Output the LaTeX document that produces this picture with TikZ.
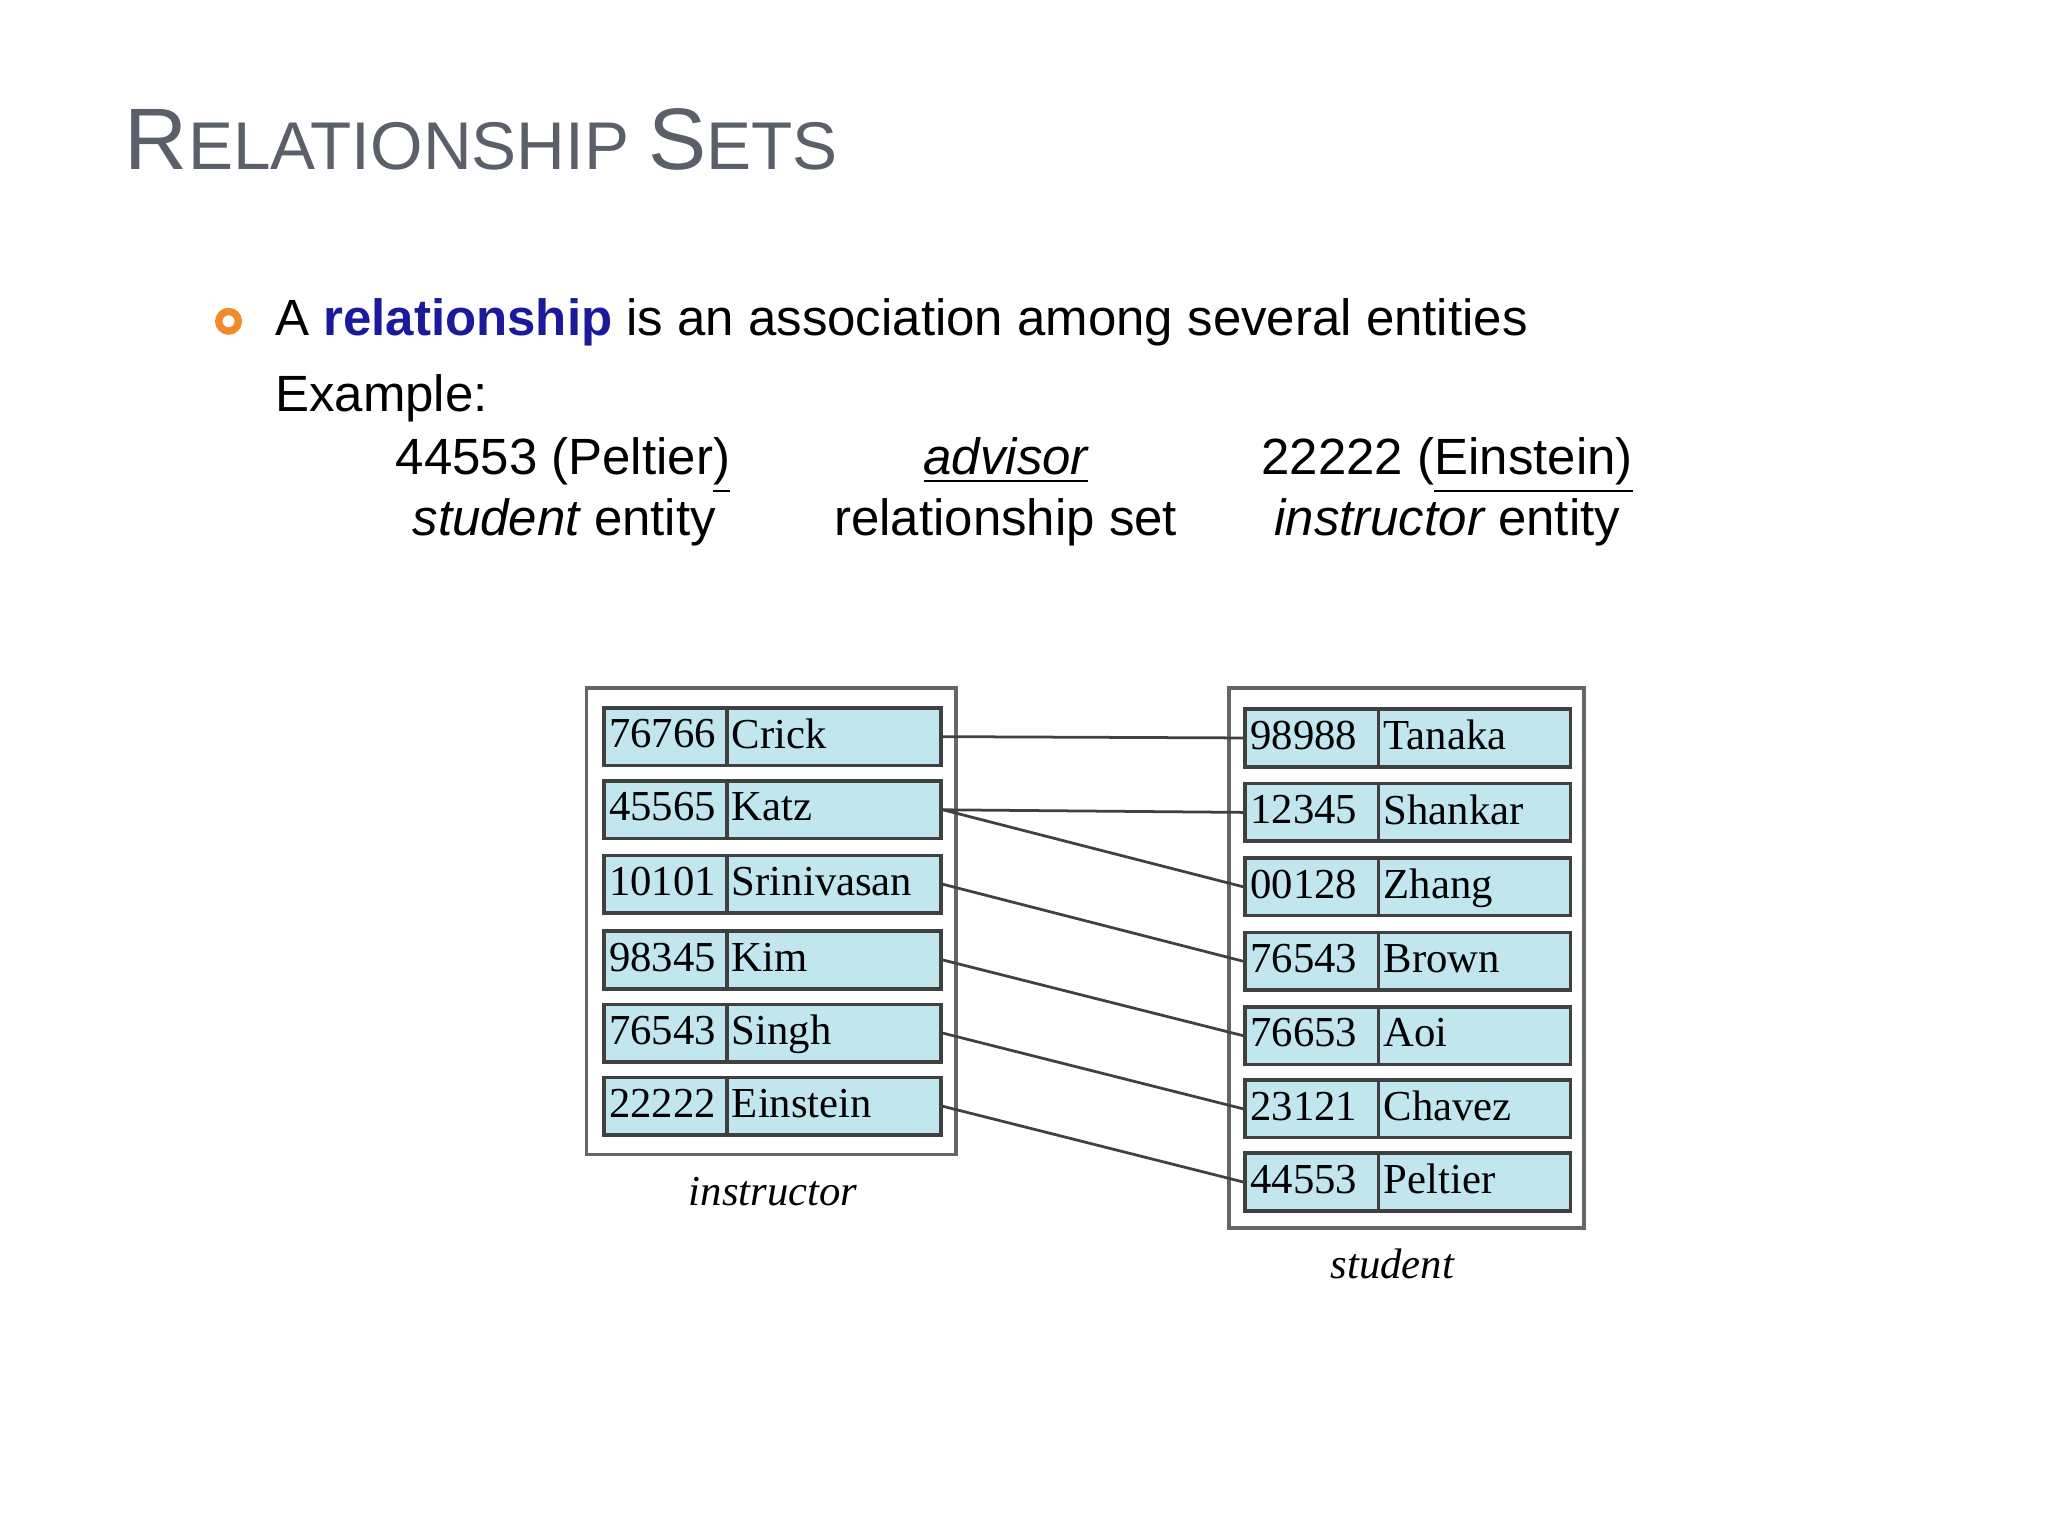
\documentclass[tikz,border=0pt]{standalone}
\usepackage{fontspec}
\setmainfont{Liberation Sans}
\newfontfamily\tabfont{Liberation Serif}
\definecolor{cellblue}{HTML}{C2E6EE}
\definecolor{titlegray}{HTML}{5A5F6A}
\definecolor{relblue}{HTML}{1A1A9A}
\definecolor{bulletorange}{HTML}{F08A2C}
\begin{document}
\begin{tikzpicture}[x=0.01cm,y=-0.01cm,
  cell/.style={draw=black!75,fill=cellblue,line width=0.8pt,minimum height=0.44cm,inner sep=0pt,font=\tabfont\fontsize{9.3}{11}\selectfont,anchor=west,text depth=0.25ex,align=left},
  outer/.style={draw=black!60,line width=0.8pt},
  link/.style={draw=black!75,line width=0.6pt},
  txt/.style={font=\fontsize{11.1}{13}\selectfont,inner sep=0pt}]
\useasboundingbox (0,0) rectangle (1568,1176);
% title
\node[anchor=base west,inner sep=0pt,text=titlegray] (title) at (95,130)
 {\fontsize{19}{23}\selectfont R\fontsize{14.7}{18}\selectfont ELATIONSHIP \fontsize{19}{23}\selectfont S\fontsize{14.7}{18}\selectfont ETS};
\node[draw=bulletorange,line width=1.6pt,circle,minimum size=0.15cm,inner sep=0pt] (bul) at (175,246) {};
\node[txt,anchor=base west] (l1) at (210,257) {A \textbf{\color{relblue}relationship} is an association among several entities};
\node[txt,anchor=base west] (l2) at (210,315) {Example:};
\node[txt,anchor=base] (a1) at (431,363) {44553 (Peltier\underline{)}};
\node[txt,anchor=base] (a2) at (770,363) {\underline{\itshape advisor}};
\node[txt,anchor=base] (a3) at (1108,363) {22222 (\underline{Einstein)}};
\node[txt,anchor=base] (b1) at (432,410) {\itshape student\upshape{} entity};
\node[txt,anchor=base] (b2) at (770,410) {relationship set};
\node[txt,anchor=base] (b3) at (1108,410) {\itshape instructor\upshape{} entity};
% boxes
\draw[outer] (449,527) rectangle (732,884);
\draw[outer] (941,527) rectangle (1213,940);
\foreach \n/\id/\nm/\y in {i1/76766/Crick/564,i2/45565/Katz/620,i3/10101/Srinivasan/677,i4/98345/Kim/735,i5/76543/Singh/791,i6/22222/Einstein/847}{
  \node[cell,minimum width=0.94cm,text width=0.86cm] (\n a) at (461,\y) {\id};
  \node[cell,minimum width=1.64cm,text width=1.56cm] (\n) at (555,\y) {\nm};
}
\foreach \n/\id/\nm/\y in {s1/98988/Tanaka/565,s2/12345/Shankar/622,s3/00128/Zhang/679,s4/76543/Brown/736,s5/76653/Aoi/793,s6/23121/Chavez/849,s7/44553/Peltier/905}{
  \node[cell,minimum width=1.02cm,text width=0.94cm] (\n) at (952,\y) {\id};
  \node[cell,minimum width=1.47cm,text width=1.39cm] (\n b) at (1054,\y) {\nm};
}
\node[font=\tabfont\itshape\fontsize{9.3}{11}\selectfont] (il) at (592,912) {instructor};
\node[font=\tabfont\itshape\fontsize{9.3}{11}\selectfont] (sl) at (1066,968) {student};
\draw[link] (i1.east) -- (s1.west);
\draw[link] (i2.east) -- (s2.west);
\draw[link] (i2.east) -- (s3.west);
\draw[link] (i3.east) -- (s4.west);
\draw[link] (i4.east) -- (s5.west);
\draw[link] (i5.east) -- (s6.west);
\draw[link] (i6.east) -- (s7.west);
\end{tikzpicture}
\end{document}
